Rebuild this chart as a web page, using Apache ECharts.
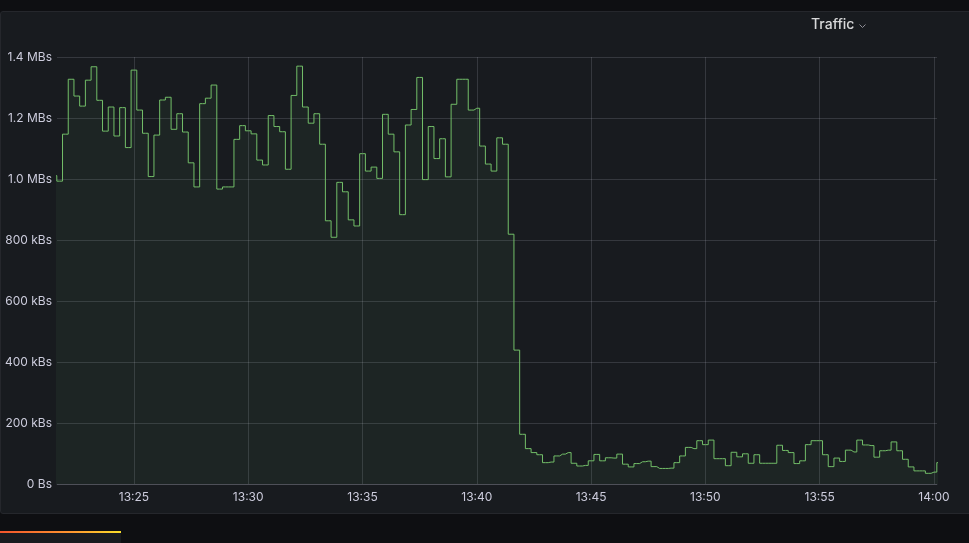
<!DOCTYPE html>
<html>
<head>
<meta charset="utf-8">
<title>Traffic</title>
<script src="https://cdn.jsdelivr.net/npm/echarts@6/dist/echarts.min.js"></script>
<style>
  html, body { margin: 0; padding: 0; background: #0e0f12; }
  #wrap { position: relative; width: 969px; height: 543px; overflow: hidden; background: #0e0f12; }
  #panel {
    position: absolute; left: 0; top: 11px; width: 1000px; height: 503px;
    background: #181b1f; border: 1px solid #25272c; border-radius: 3px; box-sizing: border-box;
  }
  #next { position: absolute; left: 0; top: 531px; width: 121px; height: 20px; background: #181b1f; }
  #next .bar { height: 2px; background: linear-gradient(90deg, #f2552c, #ff9830 60%, #fade2a); }
  #main { position: absolute; left: 0; top: 0; width: 969px; height: 543px; }
</style>
</head>
<body>
<div id="wrap">
  <div id="panel"></div>
  <div id="next"><div class="bar"></div></div>
  <div id="main"></div>
</div>
<script>
// samples every 15s starting at 13:21:30, values in kB/s
const sampleStart = '13:21:30'
const sampleStep = 15
const trafficKBs = [
  1011, 993, 1147, 1327, 1272, 1239, 1324, 1368, 1258, 1157,
  1236, 1141, 1234, 1103, 1357, 1226, 1150, 1008, 1144, 1259,
  1268, 1163, 1214, 1154, 1053, 974, 1247, 1265, 1308, 967,
  974, 974, 1130, 1175, 1158, 1148, 1062, 1046, 1208, 1172,
  1155, 1032, 1274, 1370, 1236, 1183, 1214, 1114, 863, 809,
  989, 958, 866, 846, 1083, 1026, 1039, 1002, 1212, 1147,
  1089, 883, 1177, 1228, 1333, 998, 1172, 1067, 1132, 1007,
  1245, 1327, 1327, 1226, 1232, 1108, 1049, 1026, 1135, 1114,
  819, 439, 163, 116, 103, 96, 70, 72, 92, 98,
  103, 68, 59, 61, 76, 97, 76, 86, 85, 98,
  65, 56, 67, 73, 75, 57, 51, 51, 52, 70,
  92, 120, 116, 142, 129, 144, 83, 83, 60, 104,
  89, 99, 68, 96, 68, 68, 68, 127, 110, 103,
  67, 76, 129, 142, 142, 96, 57, 85, 74, 111,
  105, 144, 128, 126, 88, 109, 111, 138, 109, 81,
  56, 43, 43, 35, 39, 70
]
const tickLabels = ['13:25', '13:30', '13:35', '13:40', '13:45', '13:50', '13:55', '14:00']
const axisStart = '13:21:38'
const axisEnd = '14:00:08'

function toMs(str) {
  const p = str.split(':').map(Number)
  return ((p[0] * 60 + p[1]) * 60 + (p[2] || 0)) * 1000
}
function fmtTime(v) {
  const m = Math.round(v / 60000)
  const h = Math.floor(m / 60)
  const mm = m % 60
  return h + ':' + (mm < 10 ? '0' : '') + mm
}
function fmtBytes(v) {
  if (v === 0) return '0 Bs'
  if (v >= 1000) return (v / 1000).toFixed(1) + ' MBs'
  return v + ' kBs'
}

const t0 = toMs(sampleStart)
const seriesData = trafficKBs.map((v, i) => [t0 + i * sampleStep * 1000, v])
const tickValues = tickLabels.map(toMs)

const gridColor = 'rgba(204, 204, 220, 0.17)'
const textColor = '#ccccdc'
const font = 'Inter, Roboto, "Noto Sans", sans-serif'

var myChart = echarts.init(document.getElementById('main'))
myChart.setOption({
  animation: false,
  grid: { left: 57, right: 32, top: 57, bottom: 59, containLabel: false },
  xAxis: {
    type: 'value',
    min: toMs(axisStart),
    max: toMs(axisEnd),
    axisLine: { show: true, lineStyle: { color: gridColor, width: 1 } },
    axisTick: { show: false, customValues: tickValues },
    axisLabel: {
      customValues: tickValues,
      formatter: fmtTime,
      color: textColor,
      fontSize: 12,
      fontFamily: font,
      margin: 7
    },
    splitLine: { show: true, lineStyle: { color: gridColor, width: 1 } }
  },
  yAxis: {
    type: 'value',
    min: 0,
    max: 1400,
    interval: 200,
    axisLine: { show: false },
    axisTick: { show: false },
    axisLabel: {
      formatter: fmtBytes,
      color: textColor,
      fontSize: 12,
      fontFamily: font,
      margin: 5
    },
    splitLine: { show: true, lineStyle: { color: gridColor, width: 1 } }
  },
  graphic: [
    {
      type: 'text',
      left: 811,
      top: 18,
      style: { text: 'Traffic', fill: '#d8d9da', font: '500 14px ' + font }
    },
    {
      type: 'polyline',
      shape: { points: [[859.5, 24.5], [862.5, 27.5], [865.5, 24.5]] },
      style: { stroke: '#8e8e96', lineWidth: 1, fill: null }
    }
  ],
  series: [
    {
      name: 'Traffic',
      type: 'line',
      step: 'middle',
      showSymbol: false,
      data: seriesData,
      lineStyle: { color: '#73bf69', width: 1 },
      itemStyle: { color: '#73bf69' },
      areaStyle: { color: 'rgba(115, 191, 105, 0.09)' }
    }
  ]
})
</script>
</body>
</html>
